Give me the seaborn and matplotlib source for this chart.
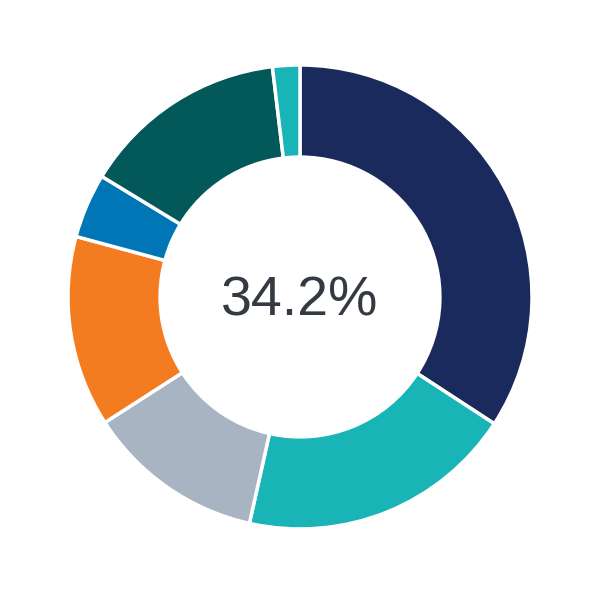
import matplotlib
matplotlib.use("Agg")
import matplotlib.pyplot as plt
import seaborn as sns

# slice data, clockwise from the top
segments = ["Navy", "Teal", "Gray", "Orange", "Blue", "Dark green", "Light teal"]
shares = [34.2, 19.3, 12.4, 13.3, 4.5, 14.4, 1.9]
colors = ["#1b2a5c", "#19b4b5", "#a9b4c2", "#f47c20", "#0076b6", "#03585a", "#19b4b5"]
center_label = "34.2%"

sns.set_theme(style="white")
plt.rcParams["font.family"] = ["Liberation Sans", "DejaVu Sans"]

fig = plt.figure(figsize=(6, 6), dpi=100)
ax = fig.add_axes([0, 0, 1, 1])

palette = sns.color_palette(colors)
ax.pie(shares, colors=palette, startangle=90, counterclock=False,
       radius=1, wedgeprops=dict(width=0.397, edgecolor="white", linewidth=2.5))

# centre label, nudged a touch down like the original
ax.text(0, -0.018, center_label, ha="center", va="center", fontsize=40, color="#343a41")

lim = 300 / 232
ax.set_xlim(-lim, lim)
ax.set_ylim(-lim - 0.013, lim - 0.013)
ax.set_aspect("equal")
ax.axis("off")

fig.savefig("out.png", dpi=100, facecolor="white")
